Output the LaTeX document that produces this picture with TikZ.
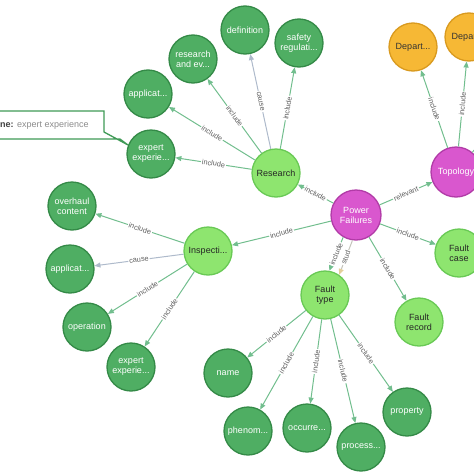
\documentclass[tikz,border=0pt]{standalone}
\usepackage{fontspec}
\setmainfont{Liberation Sans}
\usetikzlibrary{arrows.meta}

\definecolor{leaffill}{HTML}{4FAE63}
\definecolor{leafline}{HTML}{348A47}
\definecolor{midfill}{HTML}{8EE56F}
\definecolor{midline}{HTML}{69C955}
\definecolor{hubfill}{HTML}{D957CE}
\definecolor{hubline}{HTML}{B13BA7}
\definecolor{deptfill}{HTML}{F6B835}
\definecolor{deptline}{HTML}{D99A1F}
\definecolor{relgreen}{HTML}{72BE8E}
\definecolor{causeblue}{HTML}{AEBACB}
\definecolor{studgray}{HTML}{C4C4BC}
\definecolor{studtip}{HTML}{E3CF9A}
\definecolor{lblgray}{HTML}{5E5E5E}
\definecolor{tipline}{HTML}{3F9A56}

\begin{document}
\begin{tikzpicture}[x=1pt, y=-1pt,
  every node/.style={font=\fontsize{9}{10}\selectfont},
  nodebase/.style={circle, line width=1.3pt, minimum size=48pt, inner sep=0pt, align=center},
  leaf/.style={nodebase, draw=leafline, fill=leaffill, text=white},
  mid/.style={nodebase, draw=midline, fill=midfill, text=black!85},
  hub/.style={nodebase, draw=hubline, fill=hubfill, text=white, minimum size=50pt},
  dept/.style={nodebase, draw=deptline, fill=deptfill, text=black!80},
  rel/.style={draw=relgreen, line width=1pt, -{Triangle[length=6pt,width=5pt]}},
  causerel/.style={rel, draw=causeblue},
  studrel/.style={rel, draw=studgray, -{Triangle[length=6pt,width=5pt,color=studtip]}},
  lbl/.style={font=\fontsize{7.3}{8}\selectfont, text=lblgray, fill=white, inner sep=1pt, sloped, midway}]

  \clip (0,0) rectangle (474,474);

  % tooltip
  \draw[tipline, line width=1.3pt, fill=white]
    (-5,111) -- (104,111) -- (104,132) -- (128,145) -- (120,139) -- (-5,139) -- cycle;
  \node[anchor=west, inner sep=0pt] (tiptext) at (0,125.5)
    {\textcolor{black!75}{\textbf{ne:}} \textcolor{black!45}{expert experience}};

  % hubs
  \node[hub] (power) at (356,215) {Power\\Failures};
  \node[hub] (topology) at (456,172) {Topology};
  \node[mid] (research) at (276,173) {Research};
  \node[mid] (inspect) at (208,251) {Inspecti...};
  \node[mid] (faulttype) at (325,295) {Fault\\type};
  \node[mid] (faultrec) at (419,322) {Fault\\record};
  \node[mid] (faultcase) at (459,253) {Fault\\case};

  % research branch
  \node[leaf] (definition) at (245,30) {definition};
  \node[leaf] (safety) at (299,43) {safety\\regulati...};
  \node[leaf] (resev) at (193,59) {research\\and ev...};
  \node[leaf] (applA) at (148,94) {applicat...};
  \node[leaf] (expertA) at (151,154) {expert\\experie...};

  % inspection branch
  \node[leaf] (overhaul) at (72,206) {overhaul\\content};
  \node[leaf] (applB) at (70,269) {applicat...};
  \node[leaf] (operation) at (87,327) {operation};
  \node[leaf] (expertB) at (131,367) {expert\\experie...};

  % fault type branch
  \node[leaf] (name) at (228,373) {name};
  \node[leaf] (phenom) at (248,431) {phenom...};
  \node[leaf] (occur) at (307,428) {occurre...};
  \node[leaf] (process) at (361,447) {process...};
  \node[leaf] (property) at (407,412) {property};

  % topology branch
  \node[dept] (deptA) at (413,47) {Depart...};
  \node[dept] (deptB) at (469,37) {Depart...};
  \coordinate (offA) at (520,95);
  \coordinate (offB) at (530,135);

  \draw[rel] (power) -- node[lbl]{include} (research);
  \draw[rel] (power) -- node[lbl]{relevant} (topology);
  \draw[rel] (power) -- node[lbl]{include} (inspect);
  \draw[rel] (power.240) -- node[lbl]{include} (faulttype.80);
  \draw[studrel] (power.262) -- node[lbl]{stud} (faulttype.55);
  \draw[rel] (power) -- node[lbl]{include} (faultrec);
  \draw[rel] (power) -- node[lbl]{include} (faultcase);

  \draw[causerel] (research) -- node[lbl]{cause} (definition);
  \draw[rel] (research) -- node[lbl]{include} (safety);
  \draw[rel] (research) -- node[lbl]{include} (resev);
  \draw[rel] (research) -- node[lbl]{include} (applA);
  \draw[rel] (research) -- node[lbl]{include} (expertA);

  \draw[rel] (inspect) -- node[lbl]{include} (overhaul);
  \draw[causerel] (inspect) -- node[lbl]{cause} (applB);
  \draw[rel] (inspect) -- node[lbl]{include} (operation);
  \draw[rel] (inspect) -- node[lbl]{include} (expertB);

  \draw[rel] (faulttype) -- node[lbl]{include} (name);
  \draw[rel] (faulttype) -- node[lbl]{include} (phenom);
  \draw[rel] (faulttype) -- node[lbl]{include} (occur);
  \draw[rel] (faulttype) -- node[lbl]{include} (process);
  \draw[rel] (faulttype) -- node[lbl]{include} (property);

  \draw[rel] (topology) -- node[lbl]{include} (deptA);
  \draw[rel] (topology) -- node[lbl]{include} (deptB);
  \draw[rel] (topology) -- (offA);
  \draw[rel] (topology) -- (offB);

\end{tikzpicture}
\end{document}
